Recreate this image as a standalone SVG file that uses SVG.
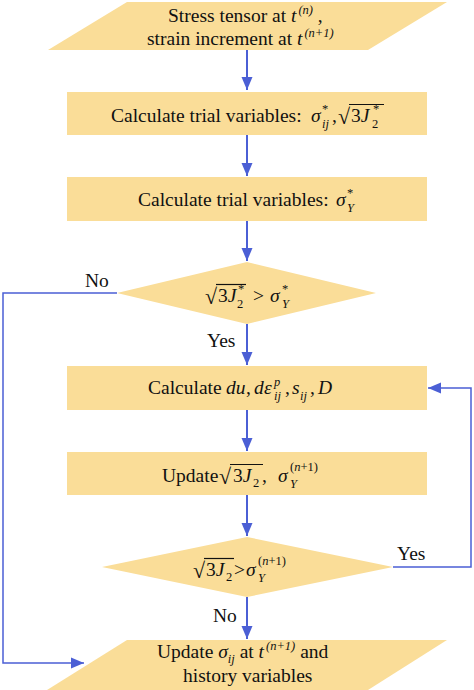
<svg xmlns="http://www.w3.org/2000/svg" width="474" height="690" viewBox="0 0 474 690">
<defs>
<marker id="ah" markerUnits="userSpaceOnUse" markerWidth="14" markerHeight="14" viewBox="0 0 14 14" refX="13" refY="7" orient="auto">
<path d="M0,1.5 L13,7 L0,12.5 Z" fill="#4B5FD5"/>
</marker>
<style>
.n{fill:#FADD98;stroke:none}
.c{fill:none;stroke:#4B5FD5;stroke-width:2;marker-end:url(#ah)}
text{font-family:"Liberation Serif","Times New Roman",serif;font-size:19.5px;fill:#111}
.i{font-style:italic}
.s{font-size:12.5px}
.sq{font-size:22px}
.v{stroke:#111;stroke-width:1.2}
</style>
</defs>
<g id="connectors">
<path class="c" d="M247,50 V90"/>
<path class="c" d="M247,135 V176"/>
<path class="c" d="M247,221 V261"/>
<path class="c" d="M247,324 V365"/>
<path class="c" d="M247,410 V451"/>
<path class="c" d="M247,495 V536"/>
<path class="c" d="M247,597 V639"/>
<path class="c" style="stroke-width:1.5" d="M117,293 H3 V663 H84"/>
<path class="c" style="stroke-width:1.5" d="M393,567 H471 V388 H428"/>
<text x="85" y="287">No</text>
<text x="207" y="347">Yes</text>
<text x="397" y="560">Yes</text>
<text x="213" y="622">No</text>
</g>
<g id="start">
<polygon class="n" points="127,2 447,2 368,50 48,50"/>
<text x="168" y="22">Stress tensor at <tspan class="i">t</tspan><tspan class="i s" dx="2" dy="-8">(n)</tspan><tspan dy="8"> ,</tspan></text>
<text x="147" y="45">strain increment at <tspan class="i">t</tspan><tspan class="i s" dx="2" dy="-8">(n+1)</tspan></text>
</g>
<g id="trial1">
<rect class="n" x="67" y="92" width="360" height="43"/>
<text x="111" y="122">Calculate trial variables:</text>
<text class="i" x="311" y="122">σ</text>
<text class="s" x="322" y="113">*</text>
<text class="i s" x="322" y="128">ij</text>
<text x="332" y="122">,</text>
<text class="sq" x="338" y="124">√</text>
<line class="v" x1="349" y1="104.5" x2="384" y2="104.5"/>
<text x="351" y="122">3<tspan class="i">J</tspan></text>
<text class="s" x="373" y="113">*</text>
<text class="s" x="372" y="128">2</text>
</g>
<g id="trial2">
<rect class="n" x="67" y="177" width="360" height="44"/>
<text x="138" y="206">Calculate trial variables:</text>
<text class="i" x="336" y="206">σ</text>
<text class="s" x="347" y="197">*</text>
<text class="i s" x="347" y="212">Y</text>
</g>
<g id="check1">
<polygon class="n" points="247,262 376,293 247,324 117,293"/>
<text class="sq" x="205" y="304">√</text>
<line class="v" x1="216" y1="284.5" x2="246" y2="284.5"/>
<text x="218" y="302">3<tspan class="i">J</tspan></text>
<text class="s" x="238" y="293">*</text>
<text class="s" x="237" y="308">2</text>
<text x="253" y="302">&gt;</text>
<text class="i" x="270" y="302">σ</text>
<text class="s" x="282" y="293">*</text>
<text class="i s" x="282" y="308">Y</text>
</g>
<g id="plastic">
<rect class="n" x="67" y="366" width="360" height="44"/>
<text x="148" y="394">Calculate</text>
<text class="i" x="226" y="394">du</text>
<text x="246" y="394">,</text>
<text class="i" x="254" y="394">d</text>
<text class="i" x="264" y="394">ε</text>
<text class="i s" x="274" y="386">p</text>
<text class="i s" x="274" y="400">ij</text>
<text x="285" y="394">,</text>
<text class="i" x="292" y="394">s</text>
<text class="i s" x="300" y="400">ij</text>
<text x="310" y="394">,</text>
<text class="i" x="318" y="394">D</text>
</g>
<g id="update">
<rect class="n" x="67" y="452" width="360" height="43"/>
<text x="162" y="482">Update</text>
<text class="sq" x="219" y="484">√</text>
<line class="v" x1="230" y1="464.5" x2="263" y2="464.5"/>
<text x="233" y="482">3<tspan class="i">J</tspan></text>
<text class="s" x="253" y="487">2</text>
<text x="262" y="482">,</text>
<text class="i" x="278" y="482">σ</text>
<text class="i s" x="290" y="488">Y</text>
<text class="s" x="290" y="471">(<tspan class="i">n</tspan>+1)</text>
</g>
<g id="check2">
<polygon class="n" points="247,537 393,567 247,597 102,567"/>
<text class="sq" x="193" y="578">√</text>
<line class="v" x1="204" y1="558.5" x2="234" y2="558.5"/>
<text x="206" y="576">3<tspan class="i">J</tspan></text>
<text class="s" x="226" y="581">2</text>
<text x="234" y="576">&gt;</text>
<text class="i" x="246" y="576">σ</text>
<text class="i s" x="258" y="582">Y</text>
<text class="s" x="258" y="565">(<tspan class="i">n</tspan>+1)</text>
</g>
<g id="end">
<polygon class="n" points="127,640 447,640 368,690 47,690"/>
<text x="157" y="658">Update <tspan class="i">σ</tspan><tspan class="i s" dy="5">ij</tspan><tspan dy="-5"> at </tspan><tspan class="i">t</tspan><tspan class="i s" dx="2" dy="-8">(n+1)</tspan><tspan dy="8"> and</tspan></text>
<text x="183" y="682">history variables</text>
</g>
</svg>
